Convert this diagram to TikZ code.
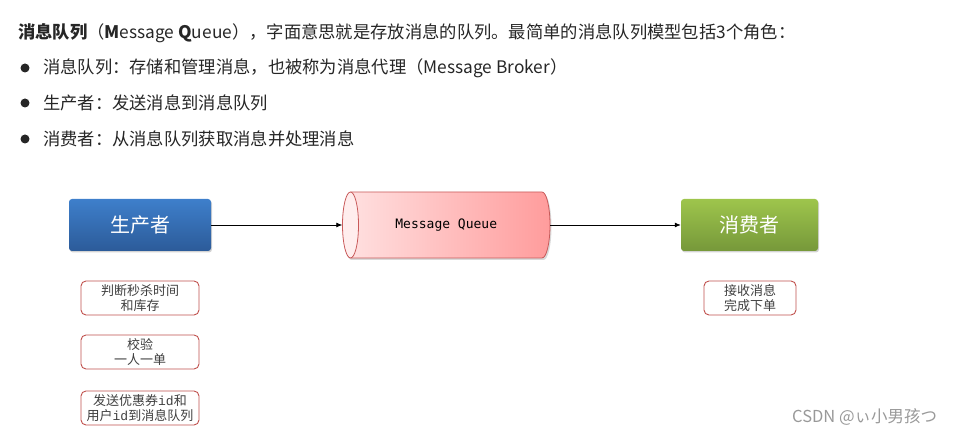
\documentclass[tikz,border=0pt]{standalone}
\usepackage{fontspec}
\setmainfont{Noto Sans CJK SC}
\newfontfamily\mqmono{DejaVu Sans Mono}
\newfontfamily\idmono{Liberation Mono}
\usetikzlibrary{arrows.meta,shadows}
\definecolor{txt}{HTML}{262626}
\definecolor{boxborder}{HTML}{C0504D}
\definecolor{smalltxt}{HTML}{404040}
\definecolor{bluetop}{HTML}{3E7FCB}
\definecolor{bluebot}{HTML}{2C5B99}
\definecolor{greentop}{HTML}{9EC54C}
\definecolor{greenbot}{HTML}{76983A}
\definecolor{mqleft}{HTML}{FFE2E2}
\definecolor{mqright}{HTML}{FF9C9C}
\definecolor{mqborder}{HTML}{C85A5A}
\definecolor{mqend}{HTML}{FFEDED}
\tikzset{
  role/.style={minimum width=142pt, minimum height=52pt, rounded corners=3pt,
    text=white, font=\fontsize{20}{24}\selectfont, inner sep=0pt,
    drop shadow={shadow xshift=1pt, shadow yshift=-1.5pt, opacity=0.35}},
  note/.style={draw=boxborder, line width=0.9pt, rounded corners=5pt, fill=white,
    minimum width=118pt, minimum height=34pt, inner sep=0pt, align=center,
    text=smalltxt, font=\fontsize{13}{14.5}\selectfont},
  link/.style={-{Latex[length=6pt,width=5pt]}, line width=0.8pt, black},
  bulletdot/.style={circle, fill=txt, inner sep=0pt, minimum size=9pt},
  line/.style={anchor=west, inner sep=0pt, text=txt, font=\fontsize{17.3}{19}\selectfont}
}
\begin{document}
\begin{tikzpicture}[x=1pt,y=1pt]
\useasboundingbox (0,0) rectangle (954,435);
% header text
\node[line] (title) at (18,402) {\textbf{消息队列}（\textbf{M}essage \textbf{Q}ueue），字面意思就是存放消息的队列。最简单的消息队列模型包括3个角色：};
\node[bulletdot] (b1) at (25,367) {};
\node[line] (l1) at (43,367) {消息队列：存储和管理消息，也被称为消息代理（Message Broker）};
\node[bulletdot] (b2) at (25,332) {};
\node[line] (l2) at (43,332) {生产者：发送消息到消息队列};
\node[bulletdot] (b3) at (25,296) {};
\node[line] (l3) at (43,296) {消费者：从消息队列获取消息并处理消息};
% roles
\node[role, top color=bluetop, bottom color=bluebot] (prod) at (140,210) {生产者};
\node[role, top color=greentop, bottom color=greenbot, minimum width=137pt] (cons) at (749.5,210) {消费者};
% message queue cylinder
\fill[black, opacity=0.15] (351.5,241) -- (543.5,241) arc[start angle=90,end angle=-90,x radius=8,y radius=33] -- (351.5,175) arc[start angle=270,end angle=90,x radius=8,y radius=33] -- cycle;
\shade[left color=mqleft, right color=mqright] (350.5,243) -- (542,243) arc[start angle=90,end angle=-90,x radius=8,y radius=33] -- (350.5,177) arc[start angle=270,end angle=90,x radius=8,y radius=33] -- cycle;
\draw[mqborder, line width=0.8pt] (350.5,243) -- (542,243) arc[start angle=90,end angle=-90,x radius=8,y radius=33] -- (350.5,177);
\draw[mqborder, line width=0.8pt, fill=mqend] (350.5,210) ellipse[x radius=8, y radius=33];
\node[minimum width=207.5pt, minimum height=66pt, inner sep=0pt, font=\mqmono\fontsize{13}{15}\selectfont, text=black] (mq) at (446.25,210) {Message Queue};
% connectors
\draw[link] (prod.east) -- (mq.west);
\draw[link] (mq.east) -- (cons.west);
% notes
\node[note] (n1) at (140,137) {判断秒杀时间\\和库存};
\node[note] (n2) at (140,83) {校验\\一人一单};
\node[note] (n3) at (140,27) {发送优惠券{\idmono id}和\\用户{\idmono id}到消息队列};
\node[note, minimum width=92pt] (n4) at (750,137) {接收消息\\完成下单};
% watermark
\node[anchor=west, inner sep=0pt, text=black!40, font=\fontsize{16.5}{18}\selectfont] (wm) at (792,18) {CSDN @ぃ小男孩つ};
\end{tikzpicture}
\end{document}
